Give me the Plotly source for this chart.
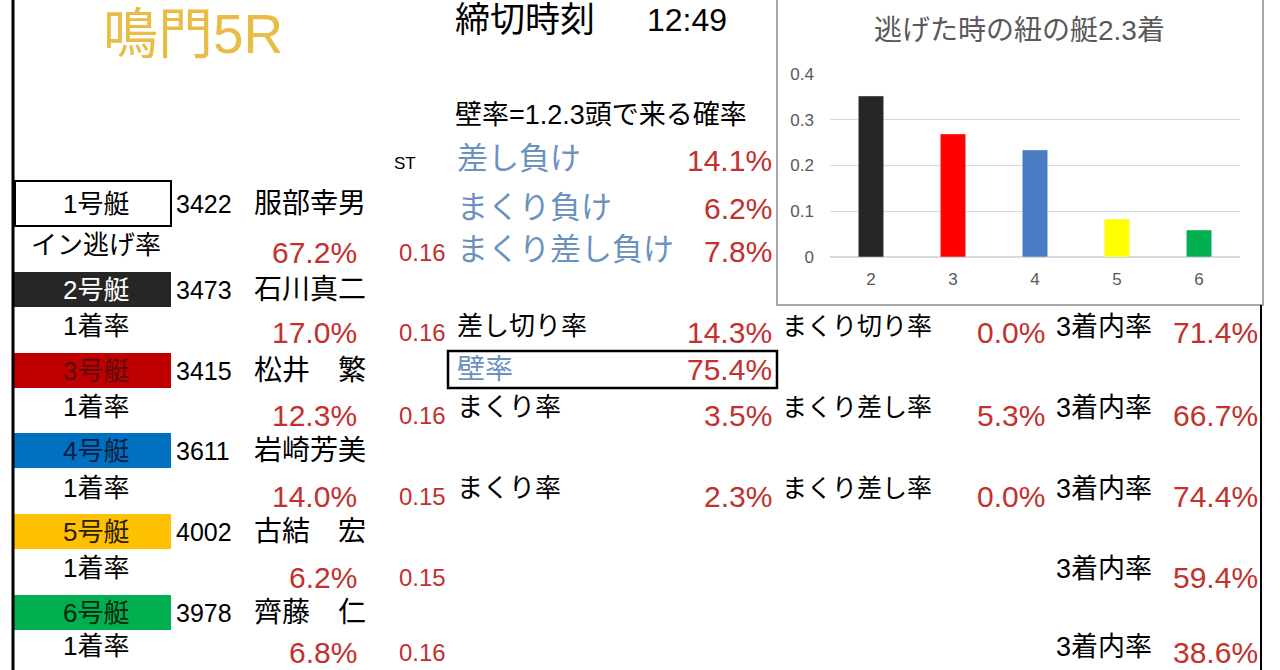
import plotly.graph_objects as go

W, H = 1280, 670

race_title = "鳴門5R"
deadline_label = "締切時刻"
deadline_time = "12:49"
wall_note = "壁率=1.2.3頭で来る確率"

# left block: one entry per boat
boats = ["1号艇", "2号艇", "3号艇", "4号艇", "5号艇", "6号艇"]
racer_ids = ["3422", "3473", "3415", "3611", "4002", "3978"]
racer_names = ["服部幸男", "石川真二", "松井　繁", "岩崎芳美", "古結　宏", "齊藤　仁"]
rate_labels = ["イン逃げ率", "1着率", "1着率", "1着率", "1着率", "1着率"]
rates = ["67.2%", "17.0%", "12.3%", "14.0%", "6.2%", "6.8%"]
st_times = ["0.16", "0.16", "0.16", "0.15", "0.15", "0.16"]

# how boat 1 loses
lose_labels = ["差し負け", "まくり負け", "まくり差し負け"]
lose_rates = ["14.1%", "6.2%", "7.8%"]

# boats 2-4 attack rates
attack_labels = ["差し切り率", "まくり率", "まくり率"]
attack_rates = ["14.3%", "3.5%", "2.3%"]
attack2_labels = ["まくり切り率", "まくり差し率", "まくり差し率"]
attack2_rates = ["0.0%", "5.3%", "0.0%"]
wall_label = "壁率"
wall_rate = "75.4%"

# boats 2-6
top3_label = "3着内率"
top3_rates = ["71.4%", "66.7%", "74.4%", "59.4%", "38.6%"]

chart_title = "逃げた時の紐の艇2.3着"
chart_boats = ["2", "3", "4", "5", "6"]
chart_values = [0.352, 0.269, 0.234, 0.083, 0.059]

# layout / style (pixels in the 1280x670 picture)
FONT = "Liberation Sans, Noto Sans CJK JP"
RED = "#C3302E"
STEEL = "#6B92BF"
box_tops = [181, 272, 353, 433, 514, 595]
box_heights = [45, 35, 35, 35, 35, 35]
box_fill = ["white", "#262626", "#C00000", "#0070C0", "#FFC000", "#00B050"]
box_text = ["black", "white", "#5a0a0a", "#0b1f3f", "#2a2000", "#06260f"]
label_rows = [245, 326, 407, 488, 568, 646]
value_rows = [252, 332, 415, 496, 577, 652]
lose_rows = [158, 207, 249]
bar_colors = ["#262626", "#FF0000", "#4A7CC4", "#FFFF00", "#00B050"]


def px(x):
    return x / W


def py(y):
    return 1 - y / H


fig = go.Figure()


def text(x, y, s, size, color="black", anchor="left"):
    fig.add_annotation(x=px(x), y=py(y), xref="paper", yref="paper", text=s,
                       showarrow=False, xanchor=anchor, yanchor="middle",
                       font=dict(size=size, color=color, family=FONT))


def rect(x0, y0, x1, y1, fill="rgba(0,0,0,0)", line="rgba(0,0,0,0)", lw=0):
    fig.add_shape(type="rect", xref="paper", yref="paper",
                  x0=px(x0), x1=px(x1), y0=py(y1), y1=py(y0),
                  fillcolor=fill, line=dict(color=line, width=lw), layer="below")


# bar chart inset
fig.add_trace(go.Bar(x=chart_boats, y=chart_values, marker_color=bar_colors,
                     width=0.31, hoverinfo="x+y"))

# frame lines
fig.add_shape(type="line", xref="paper", yref="paper", x0=px(13), x1=px(13),
              y0=0, y1=1, line=dict(color="black", width=3))
fig.add_shape(type="line", xref="paper", yref="paper", x0=px(1261), x1=px(1261),
              y0=0, y1=py(305), line=dict(color="black", width=2))
rect(777, -2, 1263, 305, line="#8c8c8c", lw=1.5)

# headings
text(193, 34, race_title, 55, "#E9BD45", "center")
text(453, 20, deadline_label, 35)
text(729, 20, deadline_time, 32, anchor="right")
text(453, 115, wall_note, 27)
text(1019, 30, chart_title, 28, "#595959", "center")
text(392, 164, "ST", 17)

# left block
for i in range(6):
    top = box_tops[i]
    bot = top + box_heights[i]
    if i == 0:
        rect(15, top, 171, bot, fill="white", line="black", lw=2)
    else:
        rect(14, top, 171, bot, fill=box_fill[i])
    mid = (top + bot) / 2
    text(96, mid, boats[i], 26, box_text[i], "center")
    text(174, mid, racer_ids[i], 25)
    text(252, mid, racer_names[i], 28)
    text(96, label_rows[i], rate_labels[i], 26, "black", "center")
    text(359, value_rows[i], rates[i], 30, RED, "right")
    text(448, value_rows[i], st_times[i], 24, RED, "right")

# boat 1 losing patterns
for i in range(3):
    text(455, lose_rows[i], lose_labels[i], 31, STEEL)
    text(774, lose_rows[i] + 2, lose_rates[i], 30, RED, "right")

# wall box
rect(448, 351, 777, 388, line="black", lw=2.5)
text(455, 369, wall_label, 28, STEEL)
text(774, 369, wall_rate, 30, RED, "right")

# boats 2-4 attack rates
for i in range(3):
    row = i + 1
    text(455, label_rows[row], attack_labels[i], 26)
    text(774, value_rows[row], attack_rates[i], 30, RED, "right")
    text(780, label_rows[row], attack2_labels[i], 25)
    text(1047, value_rows[row], attack2_rates[i], 30, RED, "right")

# top-3 rates, boats 2-6
for i in range(5):
    row = i + 1
    text(1054, label_rows[row] + 1, top3_label, 27)
    text(1260, value_rows[row], top3_rates[i], 30, RED, "right")

fig.update_layout(
    width=W, height=H, autosize=False,
    margin=dict(l=0, r=0, t=0, b=0, pad=0, autoexpand=False),
    paper_bgcolor="white", plot_bgcolor="white",
    showlegend=False,
    xaxis=dict(domain=[px(830), px(1240)], type="category", showgrid=False,
               showline=False, ticks="", ticklabelstandoff=10, automargin=False,
               tickfont=dict(size=17, color="#595959", family=FONT)),
    yaxis=dict(domain=[py(257), py(74)], range=[0, 0.4], dtick=0.1,
               gridcolor="#d9d9d9", zerolinecolor="#d9d9d9", showline=False,
               ticks="", ticklabelstandoff=15, automargin=False,
               tickfont=dict(size=17, color="#595959", family=FONT)),
)

# the page's default body margin would push the figure 8px off
fig.write_html("out.html", config={"displayModeBar": False},
               post_script="document.body.style.margin='0';"
                           "document.documentElement.style.overflow='hidden';")
